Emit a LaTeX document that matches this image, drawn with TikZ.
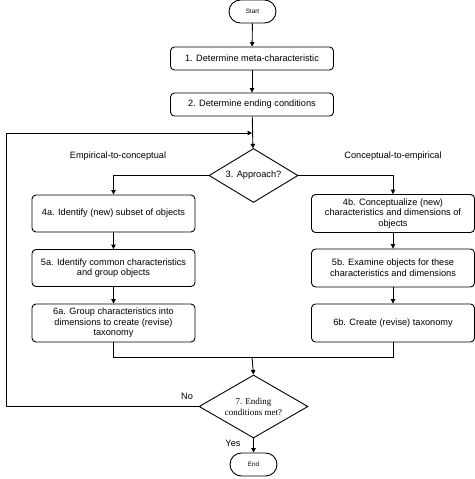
\documentclass[tikz,border=0pt]{standalone}
\usepackage{fontspec}
\setmainfont{Liberation Sans}
\newfontfamily\serifface{Liberation Serif}
\usetikzlibrary{shapes.geometric,arrows.meta}
\begin{document}
\begin{tikzpicture}[x=1pt,y=-1pt,
  every node/.style={font=\fontsize{9.2}{10.6}\selectfont, inner sep=0pt},
  procbox/.style={draw, line width=0.9pt, rounded corners=4pt, minimum width=163pt, align=center},
  term/.style={draw, line width=0.9pt, rounded corners=11.5pt, minimum width=47pt, minimum height=23pt, font=\fontsize{6.3}{7}\selectfont},
  conn/.style={line width=0.9pt},
  arr/.style={conn, -{Triangle[length=4.5pt,width=4.5pt]}},
  lbl/.style={font=\fontsize{9.2}{10.6}\selectfont}
]
\useasboundingbox (0,0) rectangle (474,479);
\node[term] (start) at (252.5,11.5) {Start};
\node[procbox, minimum height=23pt] (b1) at (252,58.5) {1. Determine meta-characteristic};
\node[procbox, minimum height=23pt] (b2) at (252,104.5) {2. Determine ending conditions};
\node[draw, line width=0.9pt, diamond, minimum width=89pt, minimum height=54pt, aspect=1.65] (d3) at (253.5,175.5) {3. Approach?};
\node[lbl] (le) at (118,156) {Empirical-to-conceptual};
\node[lbl] (lc) at (393,156) {Conceptual-to-empirical};

\node[procbox, minimum height=37pt] (b4a) at (113.5,213.5) {4a. Identify (new) subset of objects};
\node[procbox, minimum height=37pt] (b5a) at (113.5,268) {5a. Identify common characteristics\\and group objects};
\node[procbox, minimum height=38pt] (b6a) at (113.5,323) {6a. Group characteristics into\\dimensions to create (revise)\\taxonomy};

\node[procbox, minimum height=38pt] (b4b) at (393,213.5) {4b. Conceptualize (new)\\characteristics and dimensions of\\objects};
\node[procbox, minimum height=38pt] (b5b) at (393,268) {5b. Examine objects for these\\characteristics and dimensions};
\node[procbox, minimum height=38pt] (b6b) at (393,323) {6b. Create (revise) taxonomy};

\node[draw, line width=0.9pt, diamond, minimum width=109pt, minimum height=63pt, aspect=1.73, align=center, font=\serifface\fontsize{9}{11}\selectfont] (d7) at (253.5,406.5) {7. Ending\\conditions met?};
\node[term] (end) at (253.5,464.5) {End};
\node[lbl] (no) at (187,396) {No};
\node[lbl] (yes) at (233,443) {Yes};

\coordinate (loopL) at (6,133);
\coordinate (loopR) at (252,133);
\coordinate (merge) at (252,357);

\draw[arr] (start) -- (b1);
\draw[arr] (b1) -- (b2);
\draw[arr] (b2) -- (d3);
\draw[arr] (d3.west) -| (b4a.north);
\draw[arr] (d3.east) -| (b4b.north);
\draw[arr] (b4a) -- (b5a);
\draw[arr] (b5a) -- (b6a);
\draw[arr] (b4b) -- (b5b);
\draw[arr] (b5b) -- (b6b);
\draw[conn] (b6a.south) |- (merge);
\draw[conn] (b6b.south) |- (merge);
\draw[arr] (merge) -- (d7.north);
\draw[arr] (d7.south) -- (end);
\draw[conn] (d7.west) -| (loopL);
\draw[arr] (loopL) -- (loopR);
\end{tikzpicture}
\end{document}
